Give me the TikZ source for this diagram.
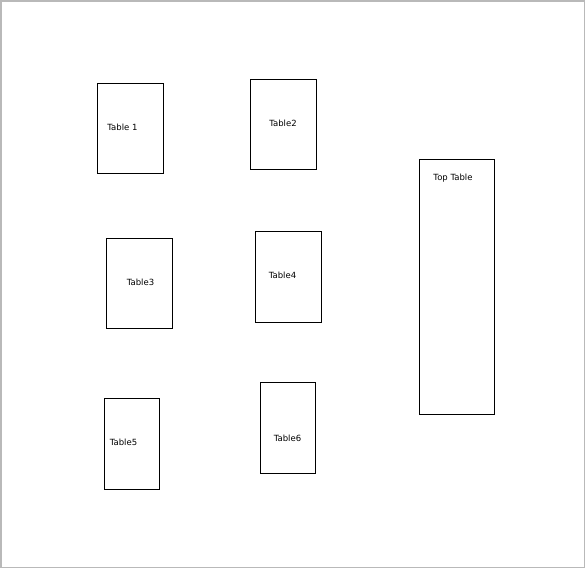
\documentclass[tikz,border=0pt]{standalone}
\usepackage{fontspec}
\setmainfont{DejaVu Sans}
\usepackage{tikz}

\begin{document}
\begin{tikzpicture}[x=1pt,y=-1pt,
		tablebox/.style={draw,line width=1pt,inner sep=0pt},
		tablename/.style={font=\fontsize{8.5}{10}\selectfont,inner sep=0pt}]
		\useasboundingbox (0,0) rectangle (585,568);
		\draw[gray!55,line width=1.5pt] (0.75,0.75) rectangle (584.25,567.25);

		\node[tablebox,minimum width=66,minimum height=90] (t1) at (130,128) {};
		\node[tablebox,minimum width=66,minimum height=90] (t2) at (283,124) {};
		\node[tablebox,minimum width=66,minimum height=90] (t3) at (139,283) {};
		\node[tablebox,minimum width=66,minimum height=91] (t4) at (288,276.5) {};
		\node[tablebox,minimum width=55,minimum height=91] (t5) at (131.5,443.5) {};
		\node[tablebox,minimum width=55,minimum height=91] (t6) at (287.5,427.5) {};
		\node[tablebox,minimum width=75,minimum height=255] (top) at (456.5,286.5) {};

		\node[tablename] (n1) at (122.5,127) {Table 1};
		\node[tablename] (n2) at (283,123) {Table2};
		\node[tablename] (n3) at (140.5,282) {Table3};
		\node[tablename] (n4) at (282.5,275) {Table4};
		\node[tablename] (n5) at (123.5,442) {Table5};
		\node[tablename] (n6) at (287.5,438) {Table6};
		\node[tablename] (ntop) at (453,178) {Top Table};
	\end{tikzpicture}
\end{document}
